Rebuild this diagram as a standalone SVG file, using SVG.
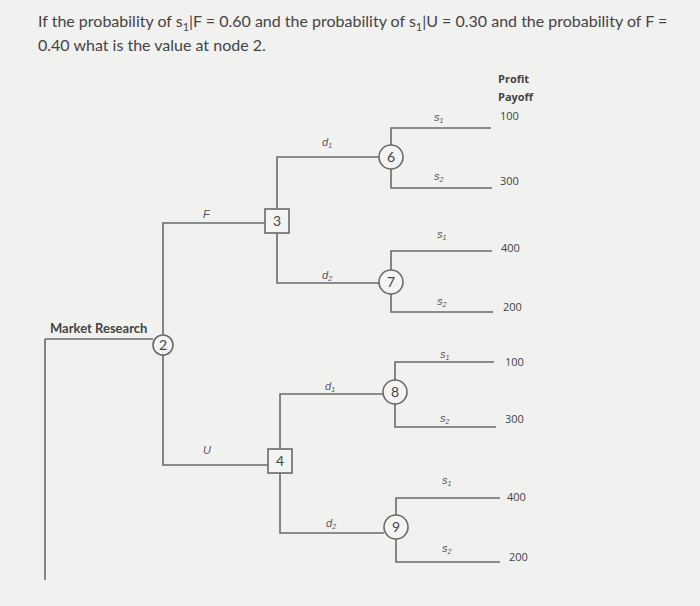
<svg xmlns="http://www.w3.org/2000/svg" width="700" height="606" viewBox="0 0 700 606">
<style>
.l{stroke:#6a6a6a;stroke-width:1.6;fill:none}
.n{stroke:#6a6a6a;stroke-width:1.6;fill:#f4f4f4}
.t{font-family:"Open Sans","Liberation Sans",sans-serif;fill:#444}
.h{font-family:Lato,"Liberation Sans",sans-serif;fill:#444}
.i{font-family:"Liberation Sans",sans-serif;font-style:italic;fill:#555;font-size:11px}
.v{font-family:"Open Sans","Liberation Sans",sans-serif;fill:#444;font-size:11px}
.k{font-family:Lato,"Liberation Sans",sans-serif;fill:#444;font-size:14px}
</style>
<rect width="700" height="606" fill="#f1f1f0"/>
<text class="h" x="38" y="27" font-size="16">If the probability of s<tspan font-size="11" dy="4">1</tspan><tspan dy="-4">|F = 0.60 and the probability of s</tspan><tspan font-size="11" dy="4">1</tspan><tspan dy="-4">|U = 0.30 and the probability of F =</tspan></text>
<text class="h" x="38" y="51" font-size="16">0.40 what is the value at node 2.</text>
<text class="t" x="498" y="83" font-size="11" font-weight="bold">Profit</text>
<text class="t" x="498" y="101" font-size="11" font-weight="bold">Payoff</text>
<g id="connectors">
<path class="l" d="M45 339H153M45 339V580"/>
<path class="l" d="M163 335V223H265M163 355V465H268"/>
<path class="l" d="M277 209V157H380M277 233V283H380"/>
<path class="l" d="M280 449V394H383M280 473V533H384"/>
<path class="l" d="M391 145V128H491M391 169V188H492"/>
<path class="l" d="M391 270V251H492M391 294V312H493"/>
<path class="l" d="M395 380V362H494M395 404V427H496"/>
<path class="l" d="M396 515V498H500M396 539V562H500"/>
</g>
<g id="labels">
<text class="h" x="50" y="333" font-size="13" font-weight="bold">Market Research</text>
<text class="i" x="203" y="218" font-size="13">F</text>
<text class="i" x="203" y="454" font-size="13">U</text>
<text class="i" x="322" y="146">d<tspan font-size="7" dy="2">1</tspan></text>
<text class="i" x="322" y="279">d<tspan font-size="7" dy="2">2</tspan></text>
<text class="i" x="325" y="390">d<tspan font-size="7" dy="2">1</tspan></text>
<text class="i" x="326" y="527">d<tspan font-size="7" dy="2">2</tspan></text>
<text class="i" x="434" y="121">s<tspan font-size="7" dy="2">1</tspan></text>
<text class="i" x="434" y="180">s<tspan font-size="7" dy="2">2</tspan></text>
<text class="i" x="437" y="238">s<tspan font-size="7" dy="2">1</tspan></text>
<text class="i" x="437" y="305">s<tspan font-size="7" dy="2">2</tspan></text>
<text class="i" x="440" y="358">s<tspan font-size="7" dy="2">1</tspan></text>
<text class="i" x="440" y="422">s<tspan font-size="7" dy="2">2</tspan></text>
<text class="i" x="442" y="484">s<tspan font-size="7" dy="2">1</tspan></text>
<text class="i" x="442" y="552">s<tspan font-size="7" dy="2">2</tspan></text>
<text class="v" x="500" y="120">100</text>
<text class="v" x="500" y="185">300</text>
<text class="v" x="501" y="252">400</text>
<text class="v" x="503" y="311">200</text>
<text class="v" x="505" y="366">100</text>
<text class="v" x="505" y="423">300</text>
<text class="v" x="507" y="501">400</text>
<text class="v" x="509" y="561">200</text>
</g>
<g id="node2"><circle class="n" cx="163" cy="345" r="10"/><text class="k" x="163" y="350" text-anchor="middle">2</text></g>
<g id="node3"><rect class="n" x="265" y="209" width="24" height="24"/><text class="k" x="277" y="226" text-anchor="middle">3</text></g>
<g id="node4"><rect class="n" x="268" y="449" width="24" height="24"/><text class="k" x="280" y="466" text-anchor="middle">4</text></g>
<g id="node6"><circle class="n" cx="391" cy="157" r="12"/><text class="k" x="391" y="162" text-anchor="middle">6</text></g>
<g id="node7"><circle class="n" cx="391" cy="282" r="12"/><text class="k" x="391" y="287" text-anchor="middle">7</text></g>
<g id="node8"><circle class="n" cx="395" cy="392" r="12"/><text class="k" x="395" y="397" text-anchor="middle">8</text></g>
<g id="node9"><circle class="n" cx="396" cy="527" r="12"/><text class="k" x="396" y="532" text-anchor="middle">9</text></g>
</svg>
